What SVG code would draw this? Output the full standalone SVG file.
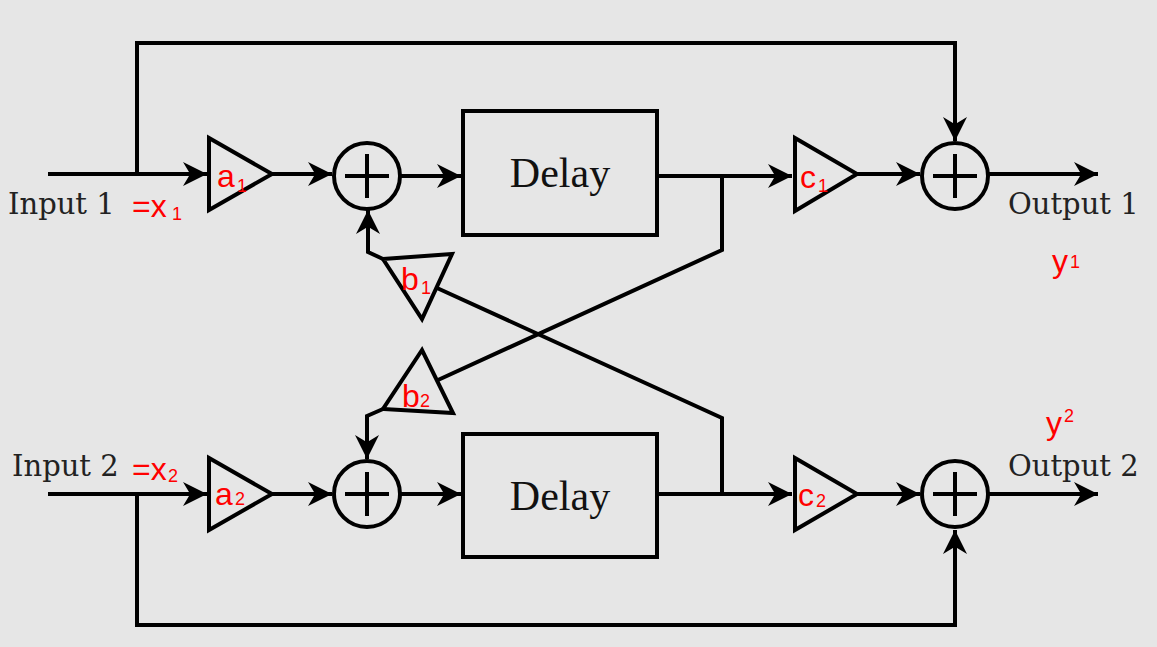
<svg xmlns="http://www.w3.org/2000/svg" width="1157" height="647" viewBox="0 0 1157 647">
<style>
.w{fill:none;stroke:#000;stroke-width:4}
.s{fill:#e6e6e6;stroke:#000;stroke-width:4}
.t{font-family:"DejaVu Serif","Liberation Serif",serif;font-size:29px;fill:#222}
.d{font-family:"Liberation Serif",serif;font-size:42px;fill:#111}
.r{font-family:"Liberation Sans",sans-serif;font-size:32px;fill:#f00}
.rs{font-family:"Liberation Sans",sans-serif;font-size:18px;fill:#f00}
</style>
<defs><marker id="a" viewBox="0 0 10 10" refX="10" refY="5" markerWidth="6" markerHeight="6" markerUnits="strokeWidth" orient="auto"><path d="M0,0L10,5L0,10L3,5z" fill="#000"/></marker></defs>
<rect width="1157" height="647" fill="#e6e6e6"/>
<g id="connectors">
<path class="w" d="M48,174H207" marker-end="url(#a)"/>
<path class="w" d="M137,174V43H955V141" marker-end="url(#a)"/>
<path class="w" d="M272,174H332" marker-end="url(#a)"/>
<path class="w" d="M400,176H461" marker-end="url(#a)"/>
<path class="w" d="M657,176H792" marker-end="url(#a)"/>
<path class="w" d="M857,174H920" marker-end="url(#a)"/>
<path class="w" d="M988,174H1098" marker-end="url(#a)"/>
<path class="w" d="M722,176V250L438,380"/>
<path class="w" d="M437,288L722,418V494"/>
<path class="w" d="M383,259L368,252V210" marker-end="url(#a)"/>
<path class="w" d="M383,409L367,416V459" marker-end="url(#a)"/>
<path class="w" d="M48,494H207" marker-end="url(#a)"/>
<path class="w" d="M137,494V625H955V530" marker-end="url(#a)"/>
<path class="w" d="M272,494H332" marker-end="url(#a)"/>
<path class="w" d="M400,494H461" marker-end="url(#a)"/>
<path class="w" d="M657,494H792" marker-end="url(#a)"/>
<path class="w" d="M857,494H920" marker-end="url(#a)"/>
<path class="w" d="M988,494H1098" marker-end="url(#a)"/>
</g>
<g id="a1"><path class="s" d="M209,138V210L272,174z"/><text class="r" x="217" y="187">a</text><text class="rs" x="237" y="192">1</text></g>
<g id="a2"><path class="s" d="M209,458V530L272,494z"/><text class="r" x="215" y="505">a</text><text class="rs" x="235" y="505">2</text></g>
<g id="c1"><path class="s" d="M795,138V211L857,174z"/><text class="r" x="800" y="188">c</text><text class="rs" x="818" y="192">1</text></g>
<g id="c2"><path class="s" d="M795,458V530L857,494z"/><text class="r" x="798" y="506">c</text><text class="rs" x="816" y="507">2</text></g>
<g id="b1"><path class="s" d="M383,259L452,254L422,319z"/><text class="r" x="401" y="290">b</text><text class="rs" x="421" y="294">1</text></g>
<g id="b2"><path class="s" d="M422,350L383,409L453,413z"/><text class="r" x="402" y="407">b</text><text class="rs" x="420" y="407">2</text></g>
<g id="sum1"><circle class="s" cx="367" cy="176" r="33"/><path class="w" d="M345,176H389M367,154V198"/></g>
<g id="sum2"><circle class="s" cx="367" cy="494" r="33"/><path class="w" d="M345,494H389M367,472V516"/></g>
<g id="sum3"><circle class="s" cx="955" cy="176" r="33"/><path class="w" d="M933,176H977M955,154V198"/></g>
<g id="sum4"><circle class="s" cx="955" cy="494" r="33"/><path class="w" d="M933,494H977M955,472V516"/></g>
<g id="delay1"><rect class="s" x="463" y="111" width="194" height="124"/><text class="d" x="560" y="187" text-anchor="middle">Delay</text></g>
<g id="delay2"><rect class="s" x="463" y="434" width="194" height="123"/><text class="d" x="560" y="510" text-anchor="middle">Delay</text></g>
<g id="labels">
<text class="t" x="8" y="214">Input 1</text>
<text class="r" x="132" y="217">=x</text><text class="rs" x="172" y="220">1</text>
<text class="t" x="12" y="476">Input 2</text>
<text class="r" x="132" y="480">=x</text><text class="rs" x="168" y="482">2</text>
<text class="t" x="1008" y="214">Output 1</text>
<text class="r" x="1052" y="272">y</text><text class="rs" x="1070" y="268">1</text>
<text class="t" x="1008" y="476">Output 2</text>
<text class="r" x="1046" y="434">y</text><text class="rs" x="1064" y="422">2</text>
</g>
</svg>
